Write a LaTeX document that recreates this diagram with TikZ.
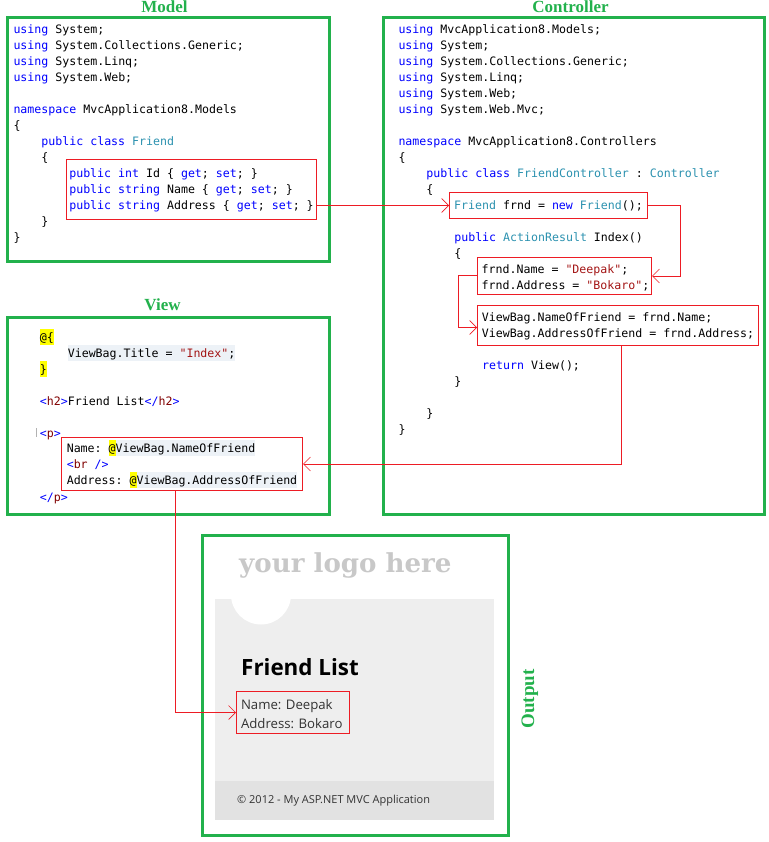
\documentclass[tikz,border=0pt]{standalone}
\usepackage{fontspec}
\usetikzlibrary{arrows.meta}

\newfontfamily\codeFamily{DejaVu Sans Mono}
\newfontfamily\titleFamily{Liberation Serif}
\newfontfamily\logoFamily{DejaVu Serif}
\newfontfamily\pageFamily{Open Sans}

\definecolor{frameGreen}{HTML}{22B14C}
\definecolor{linkRed}{HTML}{ED1C24}
\definecolor{kwBlue}{HTML}{0000FF}
\definecolor{tyTeal}{HTML}{2B91AF}
\definecolor{strRed}{HTML}{A31515}
\definecolor{tagRed}{HTML}{800000}
\definecolor{markYellow}{HTML}{FFFF00}
\definecolor{markBlue}{HTML}{EDF2F7}
\definecolor{panelGrey}{HTML}{EEEEEE}
\definecolor{footGrey}{HTML}{E2E2E2}
\definecolor{logoGrey}{HTML}{C8C8C8}

\frenchspacing
\newcommand{\codeSize}{\fontsize{11.6}{16}\selectfont\lineskiplimit=-16pt}
\newcommand{\kw}[1]{\textcolor{kwBlue}{#1}}
\newcommand{\ty}[1]{\textcolor{tyTeal}{#1}}
\newcommand{\strLit}[1]{\textcolor{strRed}{#1}}
\newcommand{\tagName}[1]{\textcolor{tagRed}{#1}}
\newcommand{\tabIn}[1]{\hspace*{#1\dimexpr 27.9pt\relax}}
\newcommand{\markBox}[2]{{\setlength{\fboxsep}{0pt}\colorbox{#1}{\rule[-3.5pt]{0pt}{16pt}#2}}}
\newcommand{\boxTop}{\rule{0pt}{13pt}}

\begin{document}
\begin{tikzpicture}[x=1pt,y=-1pt]
	\useasboundingbox (0,0) rectangle (768,842);
	\begin{scope}
		[
			styleFrame/.style={draw=frameGreen, line width=3pt},
			styleTitle/.style={text=frameGreen, font=\titleFamily\bfseries\fontsize{17}{17}\selectfont, anchor=base, inner sep=0pt},
			styleCode/.style={font=\codeFamily\codeSize, align=left, anchor=north west, inner sep=0pt},
			styleBox/.style={draw=linkRed, line width=1pt, font=\codeFamily\codeSize, align=left, inner sep=0pt},
		]
		\node(modelFrame)[styleFrame, minimum width=322, minimum height=244] at (168.5,139.5) {};
		\node(ctrlFrame)[styleFrame, minimum width=380.5, minimum height=497] at (573.75,266) {};
		\node(viewFrame)[styleFrame, minimum width=322, minimum height=197] at (168.5,416) {};
		\node(outFrame)[styleFrame, minimum width=306, minimum height=300] at (355.5,685.5) {};

		\node(modelTitle)[styleTitle] at (164.5,12.5) {Model};
		\node(ctrlTitle)[styleTitle] at (570.5,12.5) {Controller};
		\node(viewTitle)[styleTitle] at (162.5,310) {View};
		\node(outTitle)[styleTitle, font=\titleFamily\bfseries\fontsize{19}{19}\selectfont, rotate=90] at (534,699) {Output};

		\node(modelCode)[styleCode] at (13.3,21.8) {%
			\strut\kw{using} System;\\
			\kw{using} System.Collections.Generic;\\
			\kw{using} System.Linq;\\
			\kw{using} System.Web;\\
			\strut\\
			\kw{namespace} MvcApplication8.Models\\
			\{\\
			\tabIn{1}\kw{public} \kw{class} \ty{Friend}\\
			\tabIn{1}\{\\
			\strut\\
			\strut\\
			\strut\\
			\tabIn{1}\}\\
			\}};
		\node(modelBox)[styleBox, minimum width=250, minimum height=60] at (191.5,189.5) {%
			\boxTop\kw{public} \kw{int} Id \{ \kw{get}; \kw{set}; \}\\
			\kw{public} \kw{string} Name \{ \kw{get}; \kw{set}; \}\\
			\kw{public} \kw{string} Address \{ \kw{get}; \kw{set}; \}\strut};

		\node(ctrlCode)[styleCode] at (398.3,21.8) {%
			\strut\kw{using} MvcApplication8.Models;\\
			\kw{using} System;\\
			\kw{using} System.Collections.Generic;\\
			\kw{using} System.Linq;\\
			\kw{using} System.Web;\\
			\kw{using} System.Web.Mvc;\\
			\strut\\
			\kw{namespace} MvcApplication8.Controllers\\
			\{\\
			\tabIn{1}\kw{public} \kw{class} \ty{FriendController} : \ty{Controller}\\
			\tabIn{1}\{\\
			\strut\\
			\strut\\
			\tabIn{2}\kw{public} \ty{ActionResult} Index()\\
			\tabIn{2}\{\\
			\strut\\
			\strut\\
			\strut\\
			\strut\\
			\strut\\
			\strut\\
			\tabIn{3}\kw{return} View();\\
			\tabIn{2}\}\\
			\strut\\
			\tabIn{1}\}\\
			\}};
		\node(newBox)[styleBox, minimum width=198, minimum height=26] at (548.5,205.5) {%
			\boxTop\ty{Friend} frnd = \kw{new} \ty{Friend}();\strut};
		\node(setBox)[styleBox, minimum width=174, minimum height=37] at (564.5,276) {%
			\rule{0pt}{15.2pt}\hspace*{2pt}frnd.Name = \strLit{"Deepak"};\\
			\hspace*{2pt}frnd.Address = \strLit{"Bokaro"};\strut};
		\node(bagBox)[styleBox, minimum width=281, minimum height=40] at (618,325.5) {%
			\boxTop ViewBag.NameOfFriend = frnd.Name;\\
			ViewBag.AddressOfFriend = frnd.Address;\strut};

		\node(viewCode)[styleCode] at (39.7,329.1) {%
			\strut\markBox{markYellow}{@\{}\\
			\tabIn{1}\markBox{markBlue}{ViewBag.Title = \strLit{"Index"};}\\
			\markBox{markYellow}{\}}\\
			\strut\\
			\kw{<}\tagName{h2}\kw{>}Friend List\kw{</}\tagName{h2}\kw{>}\\
			\strut\\
			\kw{<}\tagName{p}\kw{>}\\
			\strut\\
			\strut\\
			\strut\\
			\kw{</}\tagName{p}\kw{>}};
		\node(viewBox)[styleBox, minimum width=241, minimum height=53] at (182,464) {%
			\boxTop Name: \markBox{markYellow}{@}\markBox{markBlue}{ViewBag.NameOfFriend}\\
			\kw{<}\tagName{br} \kw{/>}\\
			Address: \markBox{markYellow}{@}\markBox{markBlue}{ViewBag.AddressOfFriend}\strut};
		\draw[gray!60] (36.3,428) -- (36.3,437);

		% output page
		\node(panel)[fill=panelGrey, minimum width=279, minimum height=221, inner sep=0pt] at (354.5,709.5) {};
		\node(footer)[fill=footGrey, minimum width=279, minimum height=39, inner sep=0pt] at (354.5,800.5) {};
		\node(notch)[fill=white, circle, minimum size=60, inner sep=0pt] at (261,594.5) {};
		\node(logo)[text=logoGrey, font=\logoFamily\bfseries\fontsize{26.1}{27}\selectfont, anchor=base west, inner sep=0pt] at (239,572) {your logo here};
		\node(pageHead)[font=\pageFamily\bfseries\fontsize{22.4}{23}\selectfont, anchor=base west, inner sep=0pt] at (241,675) {Friend List};
		\node(outBox)[draw=linkRed, line width=1pt, font=\pageFamily\fontsize{13.2}{19}\selectfont, align=left, text=black!80, text width=104, inner xsep=4.5pt, inner ysep=0pt, minimum height=42] at (293,712.5) {%
			\rule{0pt}{17.7pt}Name: Deepak\\
			Address: Bokaro\strut};
		\node(copyright)[text=black!80, font=\pageFamily\fontsize{11}{12}\selectfont, anchor=base west, inner sep=0pt] at (237,803) {© 2012 - My ASP.NET MVC Application};

		\coordinate(modelOut) at ([yshift=-16pt]modelBox.east);
		\coordinate(setOut) at ([yshift=.7pt]setBox.west);
		\coordinate(bagIn) at ([yshift=-2pt]bagBox.west);
		\coordinate(bagOut) at (621.3,345.5);
		\coordinate(viewOut) at (175.3,490.5);
	\end{scope}

	\begin{scope}
		[ >={Straight Barb[length=7pt,width=14pt,line width=.6pt]},
			link/.style={draw=linkRed, line width=1pt, ->},
			sideways/.style={to path={-- ++(#1,0) |- (\tikztotarget)}},
			downward/.style={to path={|- (\tikztotarget)}}]
		\path
		(modelOut) edge[link]                  (newBox.west)
		(newBox.east) edge[link, sideways=32]  (setBox.east)
		(setOut) edge[link, sideways=-19]      (bagIn)
		(bagOut) edge[link, downward]          (viewBox.east)
		(viewOut) edge[link, downward]         (outBox.west);
	\end{scope}
\end{tikzpicture}
\end{document}
